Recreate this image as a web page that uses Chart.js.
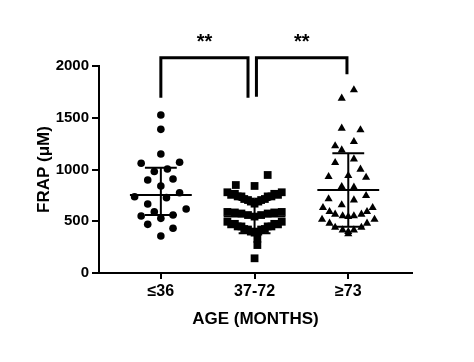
<!DOCTYPE html>
<html>
<head>
<meta charset="utf-8">
<script src="https://cdn.jsdelivr.net/npm/chart.js@4.4.1/dist/chart.umd.min.js"></script>
<style>
  html, body { margin: 0; padding: 0; background: #fff; }
  #wrap { width: 474px; height: 362px; }
</style>
</head>
<body>
<div id="wrap"><canvas id="frap"></canvas></div>
<script>
const categories = ['≤36', '37-72', '≥73'];
const yTicks = [0, 500, 1000, 1500, 2000];

// FRAP per age group; jitter = horizontal spread within the group, in category units
const young = [1527, 1388, 1150, 1060, 1070, 981, 1005, 899, 908, 841, 737, 728, 776, 667, 618, 592, 551, 528, 560, 470, 432, 357];
const youngJitter = [0, 0, 0, -0.21, 0.2, -0.07, 0.07, -0.14, 0.13, 0, -0.28, 0.06, 0.2, -0.14, 0.27, -0.07, -0.21, 0, 0.13, -0.14, 0.13, 0];

const middle = [947, 850, 841,
  780, 765, 740, 705, 670, 705, 740, 765, 780,
  755, 740, 715, 690, 690, 715, 740, 755,
  590, 585, 575, 560, 545, 560, 575, 585, 590,
  495, 475, 450, 420, 390, 420, 450, 475, 495,
  470, 450, 425, 400, 400, 425, 450, 470,
  330, 270, 142];
const middleJitter = [0.14, -0.2, 0,
  -0.29, -0.21, -0.14, -0.07, 0, 0.07, 0.14, 0.21, 0.29,
  -0.25, -0.18, -0.11, -0.04, 0.04, 0.11, 0.18, 0.25,
  -0.29, -0.21, -0.14, -0.07, 0, 0.07, 0.14, 0.21, 0.29,
  -0.29, -0.21, -0.14, -0.07, 0, 0.07, 0.14, 0.21, 0.29,
  -0.25, -0.18, -0.11, -0.04, 0.04, 0.11, 0.18, 0.25,
  0.03, 0.03, 0];

const old = [1768, 1688, 1398, 1382, 1269, 1227, 1188, 1101, 1066, 1002, 931, 940, 924, 834, 828, 747, 715, 657, 705,
  631, 593, 567, 551, 544, 551, 567, 593, 631,
  518, 480, 441, 415, 399, 415, 441, 480, 518,
  377];
const oldJitter = [0.06, -0.07, -0.07, 0.13, 0.06, -0.14, -0.07, 0.06, -0.14, 0.13, -0.21, 0, 0.19, -0.07, 0.06, 0.19, -0.21, -0.07, 0.06,
  -0.27, -0.2, -0.14, -0.06, 0, 0.06, 0.14, 0.2, 0.26,
  -0.28, -0.2, -0.14, -0.06, 0, 0.06, 0.14, 0.2, 0.28,
  0];

const means = [753, 545, 802];
const upper = [1017, 705, 1156];
const lower = [560, 385, 447];

const brackets = [
  { from: 1, to: 1.93, top: 2080, left: 1694, right: 1694, label: '**' },
  { from: 2.02, to: 2.986, top: 2080, left: 1703, right: 1920, label: '**' }
];

const FONT = '"Liberation Sans", Arial, sans-serif';

function points(values, jitter, cat) {
  return values.map((v, i) => ({ x: cat + jitter[i], y: v }));
}

function errorBar(i) {
  const c = i + 1, gap = { x: c, y: null };
  return [
    { x: c - 0.33, y: means[i] }, { x: c + 0.33, y: means[i] }, gap,
    { x: c - 0.17, y: upper[i] }, { x: c + 0.17, y: upper[i] }, gap,
    { x: c - 0.17, y: lower[i] }, { x: c + 0.17, y: lower[i] }, gap,
    { x: c, y: lower[i] }, { x: c, y: upper[i] }
  ];
}

function bracketLine(b) {
  return [{ x: b.from, y: b.left }, { x: b.from, y: b.top }, { x: b.to, y: b.top }, { x: b.to, y: b.right }];
}

const lineStyle = { showLine: true, pointRadius: 0, borderColor: '#000', borderCapStyle: 'butt', borderJoinStyle: 'miter', spanGaps: false };

const sigLabels = {
  id: 'sigLabels',
  afterDatasetsDraw(chart) {
    const { ctx, scales: { x, y } } = chart;
    ctx.save();
    ctx.font = 'bold 20px ' + FONT;
    ctx.textAlign = 'center';
    ctx.textBaseline = 'middle';
    ctx.fillStyle = '#000';
    brackets.forEach(b => {
      ctx.fillText(b.label, x.getPixelForValue((b.from + b.to) / 2), y.getPixelForValue(b.top + 150));
    });
    ctx.restore();
  }
};

new Chart(document.getElementById('frap'), {
  type: 'scatter',
  data: {
    datasets: [
      ...[0, 1, 2].map(i => ({ ...lineStyle, data: errorBar(i), borderWidth: 2 })),
      ...brackets.map(b => ({ ...lineStyle, data: bracketLine(b), borderWidth: 3, clip: false })),
      { data: points(young, youngJitter, 1), pointStyle: 'circle', pointRadius: 3.8, backgroundColor: '#000', borderWidth: 0 },
      { data: points(middle, middleJitter, 2), pointStyle: 'rect', pointRadius: 5.5, backgroundColor: '#000', borderWidth: 0 },
      { data: points(old, oldJitter, 3), pointStyle: 'triangle', pointRadius: 4.7, backgroundColor: '#000', borderWidth: 0 }
    ]
  },
  options: {
    responsive: true,
    maintainAspectRatio: false,
    animation: false,
    layout: { padding: { left: 0, top: 66, right: 62, bottom: 0 } },
    plugins: { legend: { display: false }, tooltip: { enabled: false } },
    scales: {
      x: {
        type: 'linear',
        min: 0.34,
        max: 3.68,
        afterFit: s => { s.height = 89; },
        afterBuildTicks: s => { s.ticks = categories.map((c, i) => ({ value: i + 1 })); },
        ticks: {
          callback: v => categories[v - 1] || '',
          color: '#000',
          padding: 3,
          font: { family: FONT, size: 16, weight: 'bold' }
        },
        grid: { drawOnChartArea: false, drawTicks: true, tickLength: 6, color: '#000', lineWidth: 2 },
        border: { display: true, color: '#000', width: 2 },
        title: {
          display: true,
          text: 'AGE (MONTHS)',
          color: '#000',
          padding: { top: 0, bottom: 32 },
          font: { family: FONT, size: 17, weight: 'bold' }
        }
      },
      y: {
        min: 0,
        max: 2000,
        afterFit: s => { s.width = 99; },
        afterBuildTicks: s => { s.ticks = yTicks.map(v => ({ value: v })); },
        ticks: {
          callback: v => String(v),
          color: '#000',
          padding: 3,
          font: { family: FONT, size: 15, weight: 'bold' }
        },
        grid: { drawOnChartArea: false, drawTicks: true, tickLength: 7, color: '#000', lineWidth: 2 },
        border: { display: true, color: '#000', width: 2 },
        title: {
          display: true,
          text: 'FRAP (μM)',
          color: '#000',
          padding: { top: 34, bottom: 0 },
          font: { family: FONT, size: 17, weight: 'bold' }
        }
      }
    }
  },
  plugins: [sigLabels]
});
</script>
</body>
</html>
